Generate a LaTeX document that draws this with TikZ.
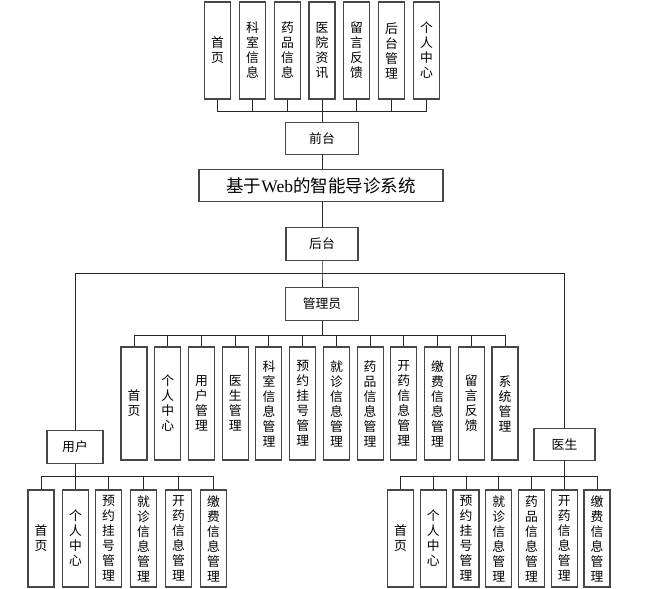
\documentclass[tikz,border=0pt]{standalone}
\usepackage{fontspec}
\newfontfamily\cjk{Noto Sans CJK SC}
\newfontfamily\webfont{Liberation Serif}
\begin{document}
\begin{tikzpicture}[x=1pt,y=-1pt,
  box/.style={draw=black!72,line width=1.1pt,fill=white,inner sep=0pt,align=center,font=\cjk\fontsize{12.8}{15}\selectfont},
  vbox/.style={box,minimum width=26pt},
  tbox/.style={vbox,minimum height=97pt},
  abox/.style={vbox,minimum height=113pt},
  hbox/.style={box,minimum height=32.5pt},
  link/.style={draw=black!85,line width=0.9pt}]
\useasboundingbox (0,0) rectangle (654,589);

% top (front end) modules
\node[tbox] (t1) at (217.5,50.5) {首\\页};
\node[tbox] (t2) at (252.5,50.5) {科\\室\\信\\息};
\node[tbox] (t3) at (287.5,50.5) {药\\品\\信\\息};
\node[tbox] (t4) at (322,50.5) {医\\院\\资\\讯};
\node[tbox] (t5) at (356.5,50.5) {留\\言\\反\\馈};
\node[tbox] (t6) at (391.5,50.5) {后\\台\\管\\理};
\node[tbox] (t7) at (426.5,50.5) {个\\人\\中\\心};

\node[hbox,minimum width=73pt] (qt) at (322,138.5) {前台};
\node[hbox,minimum width=244pt,font=\cjk\fontsize{17.5}{20}\selectfont] (title) at (321,185.5) {基于{\webfont Web}的智能导诊系统};
\node[hbox,minimum width=72pt] (ht) at (322,244) {后台};
\node[hbox,minimum width=73pt] (gly) at (322,304) {管理员};
\node[hbox,minimum width=56pt] (yh) at (75,447) {用户};
\node[hbox,minimum width=61pt] (ys) at (564.5,444.5) {医生};

% admin modules
\node[abox] (a1) at (134,403.5) {首\\页};
\node[abox] (a2) at (167.7,403.5) {个\\人\\中\\心};
\node[abox] (a3) at (201.5,403.5) {用\\户\\管\\理};
\node[abox] (a4) at (235.2,403.5) {医\\生\\管\\理};
\node[abox] (a5) at (268.9,403.5) {科\\室\\信\\息\\管\\理};
\node[abox] (a6) at (302.7,403.5) {预\\约\\挂\\号\\管\\理};
\node[abox] (a7) at (336.4,403.5) {就\\诊\\信\\息\\管\\理};
\node[abox] (a8) at (370.1,403.5) {药\\品\\信\\息\\管\\理};
\node[abox] (a9) at (403.8,403.5) {开\\药\\信\\息\\管\\理};
\node[abox] (a10) at (437.6,403.5) {缴\\费\\信\\息\\管\\理};
\node[abox] (a11) at (471.3,403.5) {留\\言\\反\\馈};
\node[abox] (a12) at (505,403.5) {系\\统\\管\\理};

% user modules
\node[tbox] (u1) at (41,538.5) {首\\页};
\node[tbox] (u2) at (75.5,538.5) {个\\人\\中\\心};
\node[tbox] (u3) at (108.5,538.5) {预\\约\\挂\\号\\管\\理};
\node[tbox] (u4) at (143.5,538.5) {就\\诊\\信\\息\\管\\理};
\node[tbox] (u5) at (178.5,538.5) {开\\药\\信\\息\\管\\理};
\node[tbox] (u6) at (213.5,538.5) {缴\\费\\信\\息\\管\\理};

% doctor modules
\node[tbox] (d1) at (400.5,538.5) {首\\页};
\node[tbox] (d2) at (433.3,538.5) {个\\人\\中\\心};
\node[tbox] (d3) at (466,538.5) {预\\约\\挂\\号\\管\\理};
\node[tbox] (d4) at (498.8,538.5) {就\\诊\\信\\息\\管\\理};
\node[tbox] (d5) at (531.5,538.5) {药\\品\\信\\息\\管\\理};
\node[tbox] (d6) at (564.3,538.5) {开\\药\\信\\息\\管\\理};
\node[tbox] (d7) at (597,538.5) {缴\\费\\信\\息\\管\\理};

% bus points
\coordinate (qtbus) at (322,111);
\coordinate (mainbus) at (322,273);
\coordinate (gbus) at (322,335);
\coordinate (ubus) at (75,476);
\coordinate (dbus) at (564.5,476);

% connectors
\draw[link] (qt.north) -- (qtbus);
\foreach \i in {1,...,7} \draw[link] (qtbus) -| (t\i.south);
\draw[link] (qt.south) -- (qt.south |- title.north);
\draw[link] (ht.north |- title.south) -- (ht.north);
\draw[link] (ht.south) -- (mainbus) -- (gly.north);
\draw[link] (mainbus) -| (yh.north);
\draw[link] (mainbus) -| (ys.north);
\draw[link] (gly.south) -- (gbus);
\foreach \i in {1,...,12} \draw[link] (gbus) -| (a\i.north);
\draw[link] (yh.south) -- (ubus);
\foreach \i in {1,...,6} \draw[link] (ubus) -| (u\i.north);
\draw[link] (ys.south) -- (dbus);
\foreach \i in {1,...,7} \draw[link] (dbus) -| (d\i.north);
\end{tikzpicture}
\end{document}
